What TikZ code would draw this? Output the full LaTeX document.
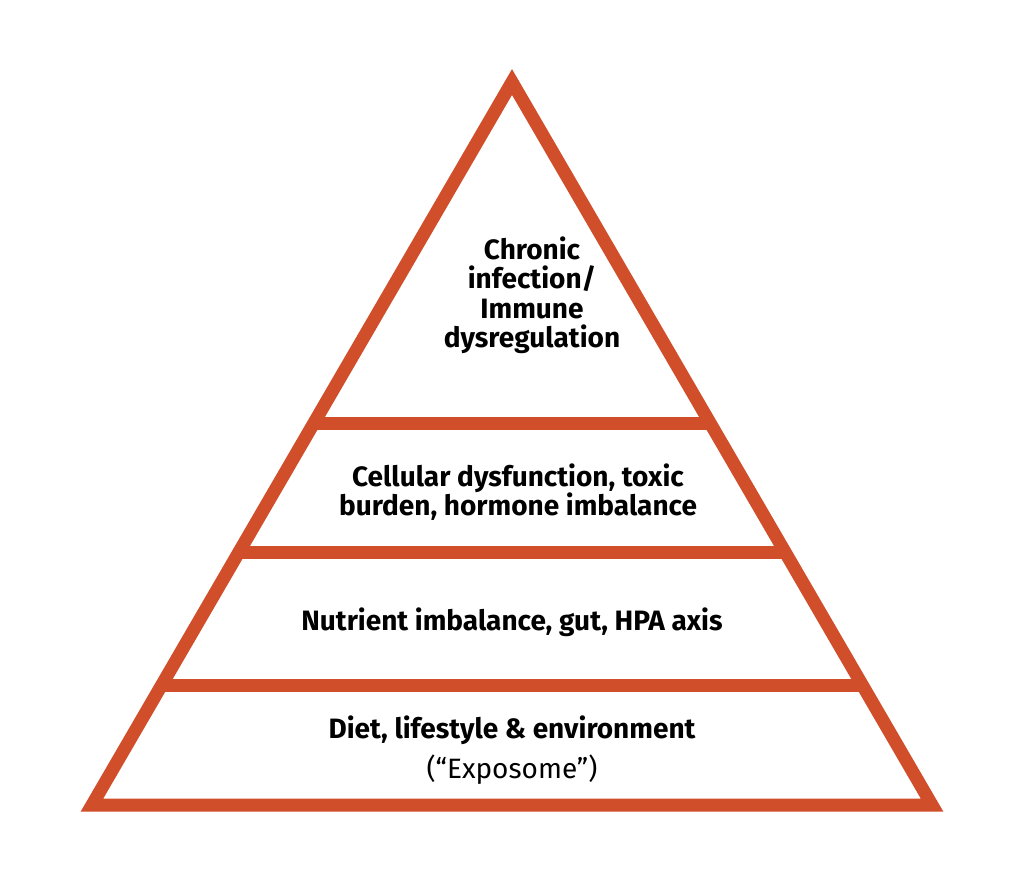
\documentclass[tikz,border=0pt]{standalone}
\usepackage{fontspec}
\setmainfont{Fira Sans}
\usetikzlibrary{calc}
\definecolor{pyr}{HTML}{D04E2A}
\begin{document}
\begin{tikzpicture}[x=1pt,y=-1pt,
  edge/.style={draw=pyr,line width=13pt,line join=miter},
  lbl/.style={align=center,font=\fontsize{28}{29.5}\selectfont\bfseries}]
\useasboundingbox (0,0) rectangle (1024,891);
\coordinate (apex) at (512,82);
\coordinate (bl) at (92,805);
\coordinate (br) at (932,805);
\draw[edge] (apex) -- (bl) -- (br) -- cycle;
\draw[edge] ($(apex)!0.473!(bl)$) -- ($(apex)!0.473!(br)$);
\draw[edge] ($(apex)!0.651!(bl)$) -- ($(apex)!0.651!(br)$);
\draw[edge] ($(apex)!0.835!(bl)$) -- ($(apex)!0.835!(br)$);
\node[lbl] (t1) at (532,295) {Chronic\\infection/\\Immune\\dysregulation};
\node[lbl] (t2) at (518,492) {Cellular dysfunction, toxic\\burden, hormone imbalance};
\node[lbl] (t3) at (512,622) {Nutrient imbalance, gut, HPA axis};
\node[lbl,font=\fontsize{28}{40}\selectfont\bfseries] (t4) at (512,750) {Diet, lifestyle \& environment\\\mdseries(“Exposome”)};
\end{tikzpicture}
\end{document}
